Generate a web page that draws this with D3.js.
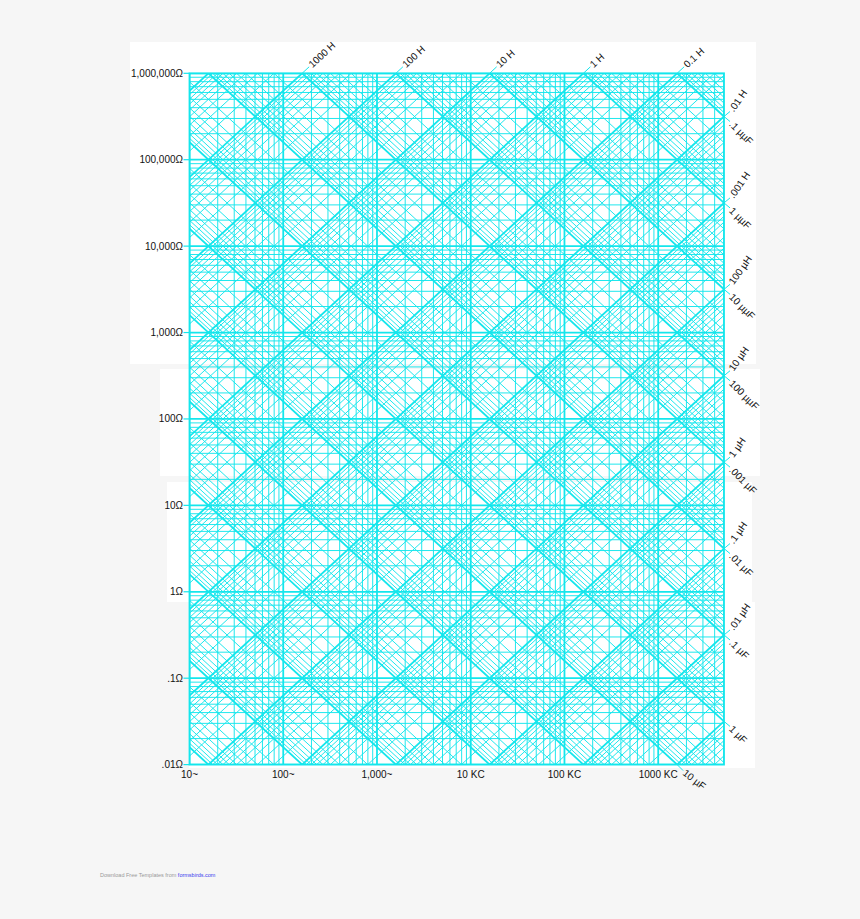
<!DOCTYPE html>
<html>
<head>
<meta charset="utf-8">
<script src="https://cdn.jsdelivr.net/npm/d3@7"></script>
<style>
    body { margin: 0; background: #f6f6f6; }
    svg { display: block; }
</style>
</head>
<body>
<svg id="chart" width="860" height="919"></svg>
<script>
// grid steps inside one decade (1..9)
const decadeSteps = [1, 2, 3, 4, 5, 6, 7, 8, 9];
const freqDecades = [10, 100, 1000, 1e4, 1e5, 1e6];
const ohmDecades = [0.01, 0.1, 1, 10, 100, 1000, 1e4, 1e5, 1e6];
const henryDecades = [1e-10, 1e-9, 1e-8, 1e-7, 1e-6, 1e-5, 1e-4, 1e-3, 1e-2, 0.1, 1, 10, 100, 1000, 1e4];
const faradDecades = [1e-14, 1e-13, 1e-12, 1e-11, 1e-10, 1e-9, 1e-8, 1e-7, 1e-6, 1e-5, 1e-4, 1e-3, 1e-2, 0.1, 1];

// axis ends
const freqDomain = [10, 5.033e6];
const ohmDomain = [0.01, 1e6];

// tick labels
const freqTicks = [10, 100, 1000, 1e4, 1e5, 1e6];
const freqLabels = ["10~", "100~", "1,000~", "10 KC", "100 KC", "1000 KC"];
const ohmTicks = [1e6, 1e5, 1e4, 1000, 100, 10, 1, 0.1, 0.01];
const ohmLabels = ["1,000,000Ω", "100,000Ω", "10,000Ω", "1,000Ω", "100Ω", "10Ω", "1Ω", ".1Ω", ".01Ω"];

// labelled reactance lines
const topHenry = [1000, 100, 10, 1, 0.1];
const topHenryLabels = ["1000 H", "100 H", "10 H", "1 H", "0.1 H"];
const sideHenry = [0.01, 0.001, 1e-4, 1e-5, 1e-6, 1e-7, 1e-8];
const sideHenryLabels = [".01 H", ".001 H", "100 µH", "10 µH", "1 µH", ".1 µH", ".01 µH"];
const sideFarad = [1e-13, 1e-12, 1e-11, 1e-10, 1e-9, 1e-8, 1e-7, 1e-6];
const sideFaradLabels = [".1 µµF", "1 µµF", "10 µµF", "100 µµF", ".001 µF", ".01 µF", ".1 µF", "1 µF"];
const bottomFarad = [1e-5];
const bottomFaradLabels = ["10 µF"];

// white paper patches behind the chart
const paperPatches = [
    [130, 42, 756, 364],
    [160, 369, 760, 476],
    [167, 482, 752, 602],
    [189, 602, 755, 768]
];

const svg = d3.select("#chart");
const lineColor = "#14e6ec";
const font = "'Liberation Sans', Arial, sans-serif";

const plot = ({ left: 189.5, right: 724, top: 73.3, bottom: 764.6 });

const x = d3.scaleLog().domain(freqDomain).range([plot.left, plot.right]);
const y = d3.scaleLog().domain(ohmDomain).range([plot.bottom, plot.top]);

svg.append("g")
    .selectAll("rect")
    .data(paperPatches)
    .join("rect")
    .attr("x", d => d[0])
    .attr("y", d => d[1])
    .attr("width", d => d[2] - d[0])
    .attr("height", d => d[3] - d[1])
    .attr("fill", "#fff");

svg.append("clipPath")
    .attr("id", "plotClip")
    .append("rect")
    .attr("x", plot.left)
    .attr("y", plot.top)
    .attr("width", plot.right - plot.left)
    .attr("height", plot.bottom - plot.top);

const grid = svg.append("g")
    .attr("clip-path", "url(#plotClip)")
    .attr("stroke", lineColor)
    .attr("fill", "none");

const expand = (decades) => decades.flatMap(d => decadeSteps.map(k => ({ v: k * d, major: k === 1 })));
const width = d => d.major ? 1.8 : 0.95;

const freqLines = expand(freqDecades).filter(d => d.v <= freqDomain[1]);
const ohmLines = expand(ohmDecades).filter(d => d.v <= ohmDomain[1]);

grid.append("g")
    .selectAll("line")
    .data(freqLines)
    .join("line")
    .attr("x1", d => x(d.v))
    .attr("x2", d => x(d.v))
    .attr("y1", plot.top)
    .attr("y2", plot.bottom)
    .attr("stroke-width", width);

grid.append("g")
    .selectAll("line")
    .data(ohmLines)
    .join("line")
    .attr("x1", plot.left)
    .attr("x2", plot.right)
    .attr("y1", d => y(d.v))
    .attr("y2", d => y(d.v))
    .attr("stroke-width", width);

const twoPi = 2 * Math.PI;
const xl = f => twoPi * f;                  // inductive reactance per henry
const xc = f => 1 / (twoPi * f);            // capacitive reactance times farad

grid.append("g")
    .selectAll("line")
    .data(expand(henryDecades))
    .join("line")
    .attr("x1", x(freqDomain[0]))
    .attr("x2", x(freqDomain[1]))
    .attr("y1", d => y(xl(freqDomain[0]) * d.v))
    .attr("y2", d => y(xl(freqDomain[1]) * d.v))
    .attr("stroke-width", width);

grid.append("g")
    .selectAll("line")
    .data(expand(faradDecades))
    .join("line")
    .attr("x1", x(freqDomain[0]))
    .attr("x2", x(freqDomain[1]))
    .attr("y1", d => y(xc(freqDomain[0]) / d.v))
    .attr("y2", d => y(xc(freqDomain[1]) / d.v))
    .attr("stroke-width", width);

// frame
svg.append("rect")
    .attr("x", plot.left)
    .attr("y", plot.top)
    .attr("width", plot.right - plot.left)
    .attr("height", plot.bottom - plot.top)
    .attr("fill", "none")
    .attr("stroke", lineColor)
    .attr("stroke-width", 1.8);

// resistance axis
const yAxis = svg.append("g")
    .attr("font-family", font)
    .attr("font-size", 10)
    .attr("fill", "#111");

yAxis.selectAll("line")
    .data(ohmTicks)
    .join("line")
    .attr("x1", plot.left - 6)
    .attr("x2", plot.left)
    .attr("y1", d => y(d))
    .attr("y2", d => y(d))
    .attr("stroke", lineColor)
    .attr("stroke-width", 1.2);

yAxis.selectAll("text")
    .data(ohmTicks)
    .join("text")
    .attr("x", plot.left - 6.5)
    .attr("y", d => y(d))
    .attr("dy", "0.35em")
    .attr("text-anchor", "end")
    .text((d, i) => ohmLabels[i]);

// frequency axis
svg.append("g")
    .attr("font-family", font)
    .attr("font-size", 10)
    .attr("fill", "#111")
    .selectAll("text")
    .data(freqTicks)
    .join("text")
    .attr("x", d => x(d))
    .attr("y", plot.bottom + 13)
    .attr("text-anchor", "middle")
    .text((d, i) => freqLabels[i]);

// reactance line labels: a short leader then rotated text
function lineLabels(points, texts, dx, dy, angle) {
    const g = svg.append("g")
        .attr("font-family", font)
        .attr("font-size", 10)
        .attr("fill", "#111");

    g.selectAll("line")
        .data(points)
        .join("line")
        .attr("x1", d => d[0])
        .attr("y1", d => d[1])
        .attr("x2", d => d[0] + dx)
        .attr("y2", d => d[1] + dy)
        .attr("stroke", lineColor)
        .attr("stroke-width", 1);

    g.selectAll("text")
        .data(points)
        .join("text")
        .attr("transform", d => `translate(${d[0] + dx + Math.sign(dx)},${d[1] + dy + Math.sign(dy)}) rotate(${angle})`)
        .attr("dy", "0.35em")
        .text((d, i) => texts[i]);
}

// henry lines ending on the top edge
lineLabels(topHenry.map(L => [x(ohmDomain[1] / xl(1) / L), plot.top]), topHenryLabels, 7, -6.5, -43);

// henry lines ending on the right edge
lineLabels(sideHenry.map(L => [plot.right, y(xl(freqDomain[1]) * L)]), sideHenryLabels, 6, -5, -55);

// farad lines ending on the right edge
lineLabels(sideFarad.map(C => [plot.right, y(xc(freqDomain[1]) / C)]), sideFaradLabels, 6, 5, 45);

// farad line ending on the bottom edge
lineLabels(bottomFarad.map(C => [x(xc(1) / C / ohmDomain[0]), plot.bottom]), bottomFaradLabels, 6, 6, 38);

// footer
const foot = svg.append("text")
    .attr("x", 100)
    .attr("y", 877)
    .attr("font-family", font)
    .attr("font-size", 5.5)
    .attr("fill", "#999");
foot.append("tspan").text("Download Free Templates from ");
foot.append("tspan").attr("fill", "#3a3aee").text("formsbirds.com");
</script>
</body>
</html>
